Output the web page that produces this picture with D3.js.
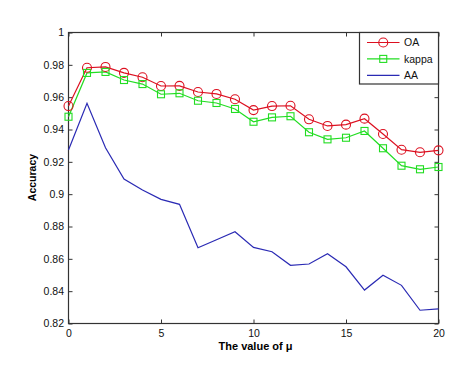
<!DOCTYPE html>
<html>
<head>
<meta charset="utf-8">
<script src="https://cdn.jsdelivr.net/npm/d3@7"></script>
<style>
body { margin: 0; background: #fff; }
text { font-family: "Liberation Sans", Arial, sans-serif; }
</style>
</head>
<body>
<div id="chart"></div>
<script>
// values
var muValues = d3.range(0, 21);
var oaValues = [0.9545, 0.9782, 0.9787, 0.975, 0.9723, 0.9669, 0.967, 0.9632, 0.962, 0.9587,
                0.952, 0.9545, 0.9547, 0.9463, 0.9422, 0.943, 0.9467, 0.9372, 0.9275, 0.9259, 0.9271];
var kappaValues = [0.9479, 0.975, 0.9756, 0.9706, 0.9681, 0.9618, 0.9624, 0.9578, 0.9564, 0.9527,
                   0.9448, 0.9475, 0.9482, 0.9383, 0.9339, 0.9349, 0.9391, 0.9284, 0.9176, 0.9154, 0.9168];
var aaValues = [0.9273, 0.9562, 0.9287, 0.9094, 0.9026, 0.8968, 0.8937, 0.8669, 0.8718, 0.8768,
                0.8671, 0.8644, 0.856, 0.8568, 0.8632, 0.8551, 0.8407, 0.8498, 0.8436, 0.8282, 0.829];
var xTicks = [0, 5, 10, 15, 20];
var yTicks = [0.82, 0.84, 0.86, 0.88, 0.9, 0.92, 0.94, 0.96, 0.98, 1];
var seriesNames = ["OA", "kappa", "AA"];
var seriesColors = ["#dc1020", "#22dd22", "#2a2ab4"];

var width = 474, height = 388;
var margin = {left: 68.5, top: 32.5, right: 474 - 438.5, bottom: 388 - 323.5};
var innerW = width - margin.left - margin.right;
var innerH = height - margin.top - margin.bottom;
var fontSize = "10.5px";

var svg = d3.select("#chart").append("svg")
    .attr("width", width)
    .attr("height", height);

var x = d3.scaleLinear().domain([0, 20]).range([margin.left, margin.left + innerW]);
var y = d3.scaleLinear().domain([0.82, 1]).range([margin.top + innerH, margin.top]);

var axisColor = "#333";

// axes with inward ticks, like matlab
function styleAxis(g) {
    g.select(".domain").remove();
    g.selectAll("line").attr("stroke", axisColor);
    g.selectAll("text").attr("fill", "#111").style("font-size", fontSize);
}

svg.append("g")
    .attr("transform", "translate(0," + (margin.top + innerH) + ")")
    .call(d3.axisBottom(x).tickValues(xTicks).tickSize(-4).tickPadding(6).tickFormat(d3.format("d")))
    .call(styleAxis);
svg.append("g")
    .attr("transform", "translate(0," + margin.top + ")")
    .call(d3.axisTop(x).tickValues(xTicks).tickSize(-4).tickFormat(""))
    .call(styleAxis);
svg.append("g")
    .attr("transform", "translate(" + margin.left + ",0)")
    .call(d3.axisLeft(y).tickValues(yTicks).tickSize(-4).tickPadding(4.5).tickFormat(function (d) { return d3.format("")(+d.toFixed(2)); }))
    .call(styleAxis);
svg.append("g")
    .attr("transform", "translate(" + (margin.left + innerW) + ",0)")
    .call(d3.axisRight(y).tickValues(yTicks).tickSize(-4).tickFormat(""))
    .call(styleAxis);

// frame
svg.append("rect")
    .attr("x", margin.left)
    .attr("y", margin.top)
    .attr("width", innerW)
    .attr("height", innerH)
    .attr("fill", "none")
    .attr("stroke", axisColor)
    .attr("stroke-width", 1.2);

var line = d3.line()
    .x(function (d, i) { return x(muValues[i]); })
    .y(function (d) { return y(d); });

var allSeries = [oaValues, kappaValues, aaValues];
allSeries.forEach(function (vals, k) {
    svg.append("path")
        .datum(vals)
        .attr("d", line)
        .attr("fill", "none")
        .attr("stroke", seriesColors[k])
        .attr("stroke-width", 1.2);
});

// markers
svg.selectAll(".oa-mark")
    .data(oaValues)
    .enter().append("circle")
    .attr("class", "oa-mark")
    .attr("cx", function (d, i) { return x(muValues[i]); })
    .attr("cy", function (d) { return y(d); })
    .attr("r", 4.5)
    .attr("fill", "none")
    .attr("stroke", seriesColors[0])
    .attr("stroke-width", 1.1);

svg.selectAll(".kappa-mark")
    .data(kappaValues)
    .enter().append("rect")
    .attr("class", "kappa-mark")
    .attr("x", function (d, i) { return x(muValues[i]) - 3.5; })
    .attr("y", function (d) { return y(d) - 3.5; })
    .attr("width", 7)
    .attr("height", 7)
    .attr("fill", "none")
    .attr("stroke", seriesColors[1])
    .attr("stroke-width", 1.1);

// legend
var lg = svg.append("g").attr("transform", "translate(359.5," + margin.top + ")");
lg.append("rect")
    .attr("width", 79)
    .attr("height", 51.5)
    .attr("fill", "#fff")
    .attr("stroke", axisColor)
    .attr("stroke-width", 1.2);
seriesNames.forEach(function (name, k) {
    var yy = 10 + k * 16.4;
    lg.append("line")
        .attr("x1", 7.5).attr("x2", 40)
        .attr("y1", yy).attr("y2", yy)
        .attr("stroke", seriesColors[k])
        .attr("stroke-width", 1.2);
    if (k === 0) {
        lg.append("circle").attr("cx", 23.75).attr("cy", yy).attr("r", 4.5)
            .attr("fill", "none").attr("stroke", seriesColors[k]).attr("stroke-width", 1.1);
    } else if (k === 1) {
        lg.append("rect").attr("x", 20.25).attr("y", yy - 3.5).attr("width", 7).attr("height", 7)
            .attr("fill", "none").attr("stroke", seriesColors[k]).attr("stroke-width", 1.1);
    }
    lg.append("text")
        .attr("x", 44.5)
        .attr("y", yy)
        .attr("dy", "0.35em")
        .style("font-size", fontSize)
        .attr("fill", "#111")
        .text(name);
});

// axis titles
svg.append("text")
    .attr("x", 255.5)
    .attr("y", 349.5)
    .attr("text-anchor", "middle")
    .style("font-size", "11px")
    .style("font-weight", "bold")
    .text("The value of μ");

svg.append("text")
    .attr("transform", "translate(35.5,177.5) rotate(-90)")
    .attr("text-anchor", "middle")
    .style("font-size", "10.5px")
    .style("font-weight", "bold")
    .text("Accuracy");
</script>
</body>
</html>
